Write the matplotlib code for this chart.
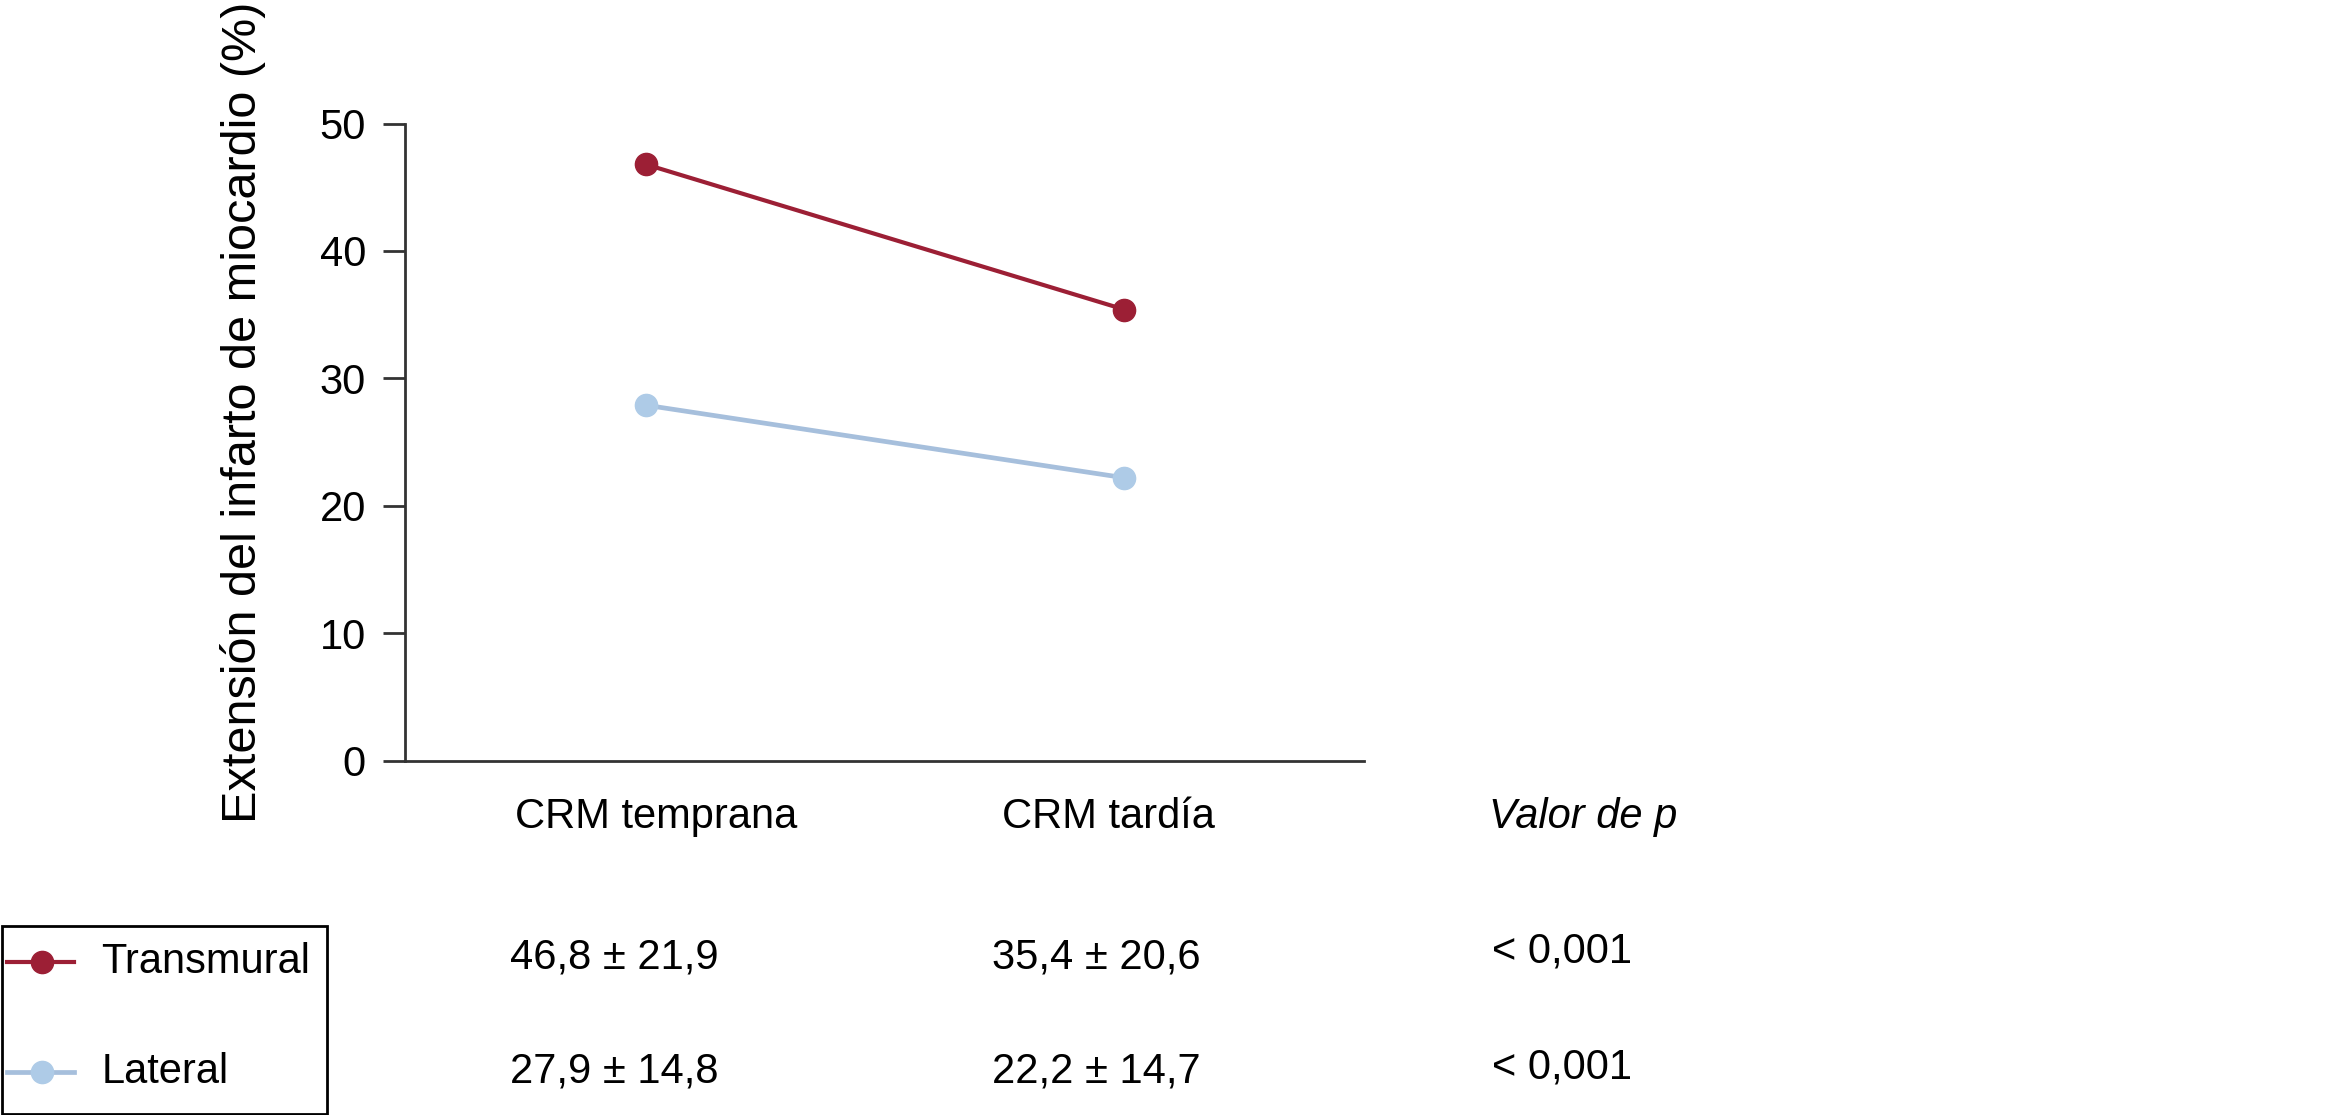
import matplotlib
matplotlib.use("Agg")
import matplotlib.pyplot as plt
from matplotlib.lines import Line2D
from matplotlib.patches import Rectangle

plt.rcParams['font.family'] = ['Liberation Sans', 'DejaVu Sans']

# data
groups = ["CRM temprana", "CRM tardía"]
series = ["Transmural", "Lateral"]
transmural = [46.8, 35.4]
lateral = [27.9, 22.2]
transmural_txt = ["46,8 ± 21,9", "35,4 ± 20,6"]
lateral_txt = ["27,9 ± 14,8", "22,2 ± 14,7"]
p_values = ["< 0,001", "< 0,001"]
yticks = [0, 10, 20, 30, 40, 50]

red = "#9c1f35"
blue = "#aecbe7"
blue_line = "#a6bfdc"
axis_col = "#333333"

fig = plt.figure(figsize=(23.33, 11.15), dpi=100)
ax = fig.add_axes([0.1735, 0.3178, 0.4113, 0.5714])

x = range(len(groups))
ax.plot(x, transmural, color=red, lw=3, marker="o", ms=16,
        mfc=red, mec=red, label=series[0])
ax.plot(x, lateral, color=blue_line, lw=3.4, marker="o", ms=16,
        mfc=blue, mec=blue, label=series[1])

ax.set_xlim(-0.503, 1.501)
ax.set_ylim(0, 50)
ax.set_yticks(yticks)
ax.set_xticks([])
for s in ["top", "right"]:
    ax.spines[s].set_visible(False)
for s in ["left", "bottom"]:
    ax.spines[s].set_color(axis_col)
    ax.spines[s].set_linewidth(2)
ax.tick_params(axis="y", length=16, width=2, color=axis_col, pad=12,
               labelsize=30)

fig.text(0.104, 1 - 277 / 749, "Extensión del infarto de miocardio (%)",
         rotation=90, ha="center", va="center", fontsize=35)

# header row
hy = 1 - 549 / 749
fig.text(441 / 1568, hy, groups[0], ha="center", va="center", fontsize=30)
fig.text(745 / 1568, hy, groups[1], ha="center", va="center", fontsize=30)
fig.text(1001 / 1568, hy, "Valor de p", ha="left", va="center", fontsize=30,
         style="italic")

# value rows
rows_y = [1 - 643 / 749, 1 - 720 / 749]
p_y = [1 - 639 / 749, 1 - 717 / 749]
for i, vals in enumerate([transmural_txt, lateral_txt]):
    fig.text(413 / 1568, rows_y[i], vals[0], ha="center", va="center", fontsize=30)
    fig.text(737 / 1568, rows_y[i], vals[1], ha="center", va="center", fontsize=30)
    fig.text(1003 / 1568, p_y[i], p_values[i], ha="left", va="center", fontsize=30)

# legend box drawn by hand so it matches the table rows
fig.add_artist(Rectangle((0.0008, 0.0013), 0.1395, 0.1683, transform=fig.transFigure,
                         fill=False, edgecolor="black", lw=2))
leg_y = [1 - 646 / 749, 1 - 720 / 749]
for line, yy in zip(ax.get_lines(), leg_y):
    h = Line2D([5 / 1568, 28 / 1568, 50 / 1568], [yy, yy, yy],
               transform=fig.transFigure, color=line.get_color(),
               lw=line.get_linewidth(), marker="o", markevery=[1], ms=16,
               mfc=line.get_markerfacecolor(), mec=line.get_markeredgecolor())
    fig.add_artist(h)
    fig.text(68 / 1568, yy, line.get_label(), ha="left", va="center", fontsize=30)

fig.savefig("out.png", dpi=100)
